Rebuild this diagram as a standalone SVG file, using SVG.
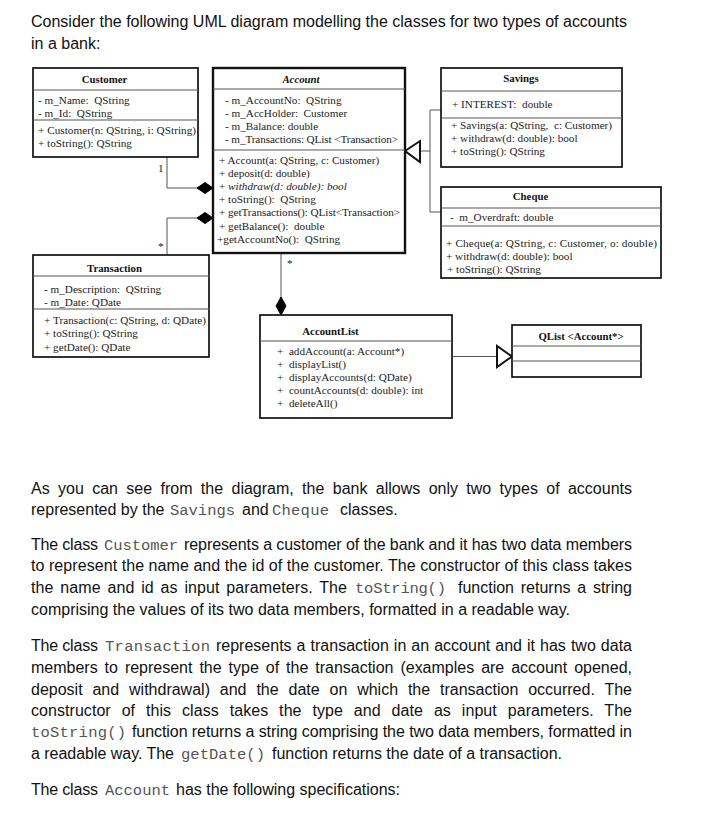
<svg xmlns="http://www.w3.org/2000/svg" width="711" height="823" viewBox="0 0 711 823">
<style>
.bg{fill:#fff}
.box{fill:#fff;stroke:#111;stroke-width:1.7}
.boxk{fill:#fff;stroke:#111;stroke-width:2.4}
.div{stroke:#555;stroke-width:1}
.t{font-family:"Liberation Serif","Times New Roman",serif;font-size:11.2px;fill:#222;white-space:pre}
.h{font-family:"Liberation Serif","Times New Roman",serif;font-size:10.8px;font-weight:bold;fill:#111;text-anchor:middle}
.i{font-style:italic}
.ln{fill:none;stroke:#555;stroke-width:1}
.dia{fill:#000;stroke:#000;stroke-width:1}
.tri{fill:#fff;stroke:#111;stroke-width:2}
.p{font-family:"Liberation Sans",Arial,sans-serif;font-size:16px;fill:#111}
.m{font-family:"Liberation Mono","Courier New",monospace;font-size:15.5px;fill:#555}
</style>
<rect class="bg" x="0" y="0" width="711" height="823"/>

<g id="intro">
<text class="p" x="31" y="27" textLength="596">Consider the following UML diagram modelling the classes for two types of accounts</text>
<text class="p" x="31" y="49">in a bank:</text>
</g>

<g id="connectors">
<polyline class="ln" points="167,157 167,188 197,188"/>
<polygon class="dia" points="197,188 205,182.5 213,188 205,193.5"/>
<text class="t" x="158" y="172">1</text>
<polyline class="ln" points="167,255 167,218 197,218"/>
<polygon class="dia" points="197,218 205,212.5 213,218 205,223.5"/>
<text class="t" x="158" y="250">*</text>
<line class="ln" x1="281" y1="253" x2="281" y2="298"/>
<polygon class="dia" points="281,297 286,306 281,315 276,306"/>
<text class="t" x="287" y="267">*</text>
<polyline class="ln" points="420,151 430,151"/>
<polyline class="ln" points="441,110 430,110 430,212 441,212"/>
<polygon class="tri" points="405,151 420,141 420,162"/>
<line class="ln" x1="452" y1="356.5" x2="497" y2="356.5"/>
<polygon class="tri" points="512,356.5 497,346 497,367"/>
</g>

<g id="Customer">
<rect class="box" x="33" y="68" width="165" height="89"/>
<text class="h" x="104.5" y="82.5">Customer</text>
<line class="div" x1="33" y1="90" x2="198" y2="90"/>
<text class="t" x="38" y="103.5">- m_Name:  QString</text>
<text class="t" x="38" y="116.5">- m_Id:  QString</text>
<line class="div" x1="33" y1="120" x2="198" y2="120"/>
<text class="t" x="38" y="133.5" textLength="158">+ Customer(n: QString, i: QString)</text>
<text class="t" x="38" y="147">+ toString(): QString</text>
</g>

<g id="Account">
<rect class="boxk" x="213" y="68" width="192" height="185"/>
<text class="h i" x="301" y="82.5">Account</text>
<line class="div" x1="213" y1="89" x2="405" y2="89"/>
<text class="t" x="225" y="103.5">- m_AccountNo:  QString</text>
<text class="t" x="225" y="116.5">- m_AccHolder:  Customer</text>
<text class="t" x="225" y="129.5">- m_Balance: double</text>
<text class="t" x="225" y="142.5" textLength="173">- m_Transactions: QList &lt;Transaction&gt;</text>
<line class="div" x1="213" y1="150" x2="405" y2="150"/>
<text class="t" x="219" y="163.5">+ Account(a: QString, c: Customer)</text>
<text class="t" x="219" y="176.7">+ deposit(d: double)</text>
<text class="t" x="219" y="189.9">+ <tspan class="i">withdraw(d: double): bool</tspan></text>
<text class="t" x="219" y="203.1">+ toString():  QString</text>
<text class="t" x="219" y="216.3" textLength="181">+ getTransactions(): QList&lt;Transaction&gt;</text>
<text class="t" x="219" y="229.5">+ getBalance():  double</text>
<text class="t" x="217" y="242.7">+getAccountNo():  QString</text>
</g>

<g id="Savings">
<rect class="box" x="441" y="68" width="181" height="99"/>
<text class="h" x="521" y="82">Savings</text>
<line class="div" x1="441" y1="91" x2="622" y2="91"/>
<text class="t" x="452" y="107.5">+ INTEREST:  double</text>
<line class="div" x1="441" y1="118" x2="622" y2="118"/>
<text class="t" x="451" y="129">+ Savings(a: QString,  c: Customer)</text>
<text class="t" x="451" y="142">+ withdraw(d: double): bool</text>
<text class="t" x="451" y="155">+ toString(): QString</text>
</g>

<g id="Cheque">
<rect class="box" x="441" y="187" width="220" height="91"/>
<text class="h" x="530.5" y="200">Cheque</text>
<line class="div" x1="441" y1="208" x2="661" y2="208"/>
<text class="t" x="450" y="220.5">-  m_Overdraft: double</text>
<line class="div" x1="441" y1="226" x2="661" y2="226"/>
<text class="t" x="446" y="246.5" textLength="211">+ Cheque(a: QString, c: Customer, o: double)</text>
<text class="t" x="446" y="259.5">+ withdraw(d: double): bool</text>
<text class="t" x="447" y="272.5">+ toString(): QString</text>
</g>

<g id="Transaction">
<rect class="box" x="33" y="255" width="176" height="102"/>
<text class="h" x="114.5" y="272">Transaction</text>
<line class="div" x1="33" y1="276" x2="209" y2="276"/>
<text class="t" x="44" y="292.5">- m_Description:  QString</text>
<text class="t" x="44" y="305.5">- m_Date: QDate</text>
<line class="div" x1="33" y1="309" x2="209" y2="309"/>
<text class="t" x="44" y="323.5" textLength="162">+ Transaction(c: QString, d: QDate)</text>
<text class="t" x="44" y="337">+ toString(): QString</text>
<text class="t" x="44" y="350.5">+ getDate(): QDate</text>
</g>

<g id="AccountList">
<rect class="box" x="260" y="315" width="192" height="103"/>
<text class="h" x="330.5" y="334.5">AccountList</text>
<line class="div" x1="260" y1="341" x2="452" y2="341"/>
<text class="t" x="277" y="354.5">+  addAccount(a: Account*)</text>
<text class="t" x="277" y="367.5">+  displayList()</text>
<text class="t" x="277" y="380.5">+  displayAccounts(d: QDate)</text>
<text class="t" x="277" y="394">+  countAccounts(d: double): int</text>
<text class="t" x="277" y="407">+  deleteAll()</text>
</g>

<g id="QList">
<rect class="box" x="512" y="325" width="129" height="52"/>
<text class="h" x="581" y="339.5">QList &lt;Account*&gt;</text>
<line class="div" x1="512" y1="346" x2="641" y2="346"/>
<line class="div" x1="512" y1="361" x2="641" y2="361"/>
</g>

<g id="body">
<text class="p" x="31" y="494" word-spacing="3.9" textLength="601">As you can see from the diagram, the bank allows only two types of accounts</text>
<text class="p" x="31" y="515">represented by the</text>
<text class="m" x="170" y="515" textLength="65">Savings</text>
<text class="p" x="242" y="515">and</text>
<text class="m" x="272" y="515" textLength="57">Cheque</text>
<text class="p" x="340" y="515">classes.</text>

<text class="p" x="31" y="550" textLength="67">The class</text>
<text class="m" x="104" y="550" textLength="74">Customer</text>
<text class="p" x="184" y="550" textLength="448">represents a customer of the bank and it has two data members</text>
<text class="p" x="31" y="571" textLength="601">to represent the name and the id of the customer. The constructor of this class takes</text>
<text class="p" x="31" y="593" word-spacing="2.2" textLength="316">the name and id as input parameters. The</text>
<text class="m" x="355" y="593" textLength="91">toString()</text>
<text class="p" x="458" y="593" word-spacing="2.3" textLength="174">function returns a string</text>
<text class="p" x="31" y="615" textLength="539">comprising the values of its two data members, formatted in a readable way.</text>

<text class="p" x="31" y="651" textLength="67">The class</text>
<text class="m" x="105" y="651" textLength="105">Transaction</text>
<text class="p" x="216" y="651" word-spacing="0.6" textLength="416">represents a transaction in an account and it has two data</text>
<text class="p" x="31" y="673" word-spacing="2.5" textLength="601">members to represent the type of the transaction (examples are account opened,</text>
<text class="p" x="31" y="695" word-spacing="5.4" textLength="601">deposit and withdrawal) and the date on which the transaction occurred. The</text>
<text class="p" x="31" y="716" word-spacing="6.4" textLength="601">constructor of this class takes the type and date as input parameters. The</text>
<text class="m" x="31" y="737" textLength="95">toString()</text>
<text class="p" x="132" y="737" textLength="500">function returns a string comprising the two data members, formatted in</text>
<text class="p" x="31" y="759" textLength="143">a readable way. The</text>
<text class="m" x="181" y="759" textLength="84">getDate()</text>
<text class="p" x="272" y="759" textLength="290">function returns the date of a transaction.</text>

<text class="p" x="31" y="795" textLength="67">The class</text>
<text class="m" x="105" y="795" textLength="65">Account</text>
<text class="p" x="176" y="795" textLength="224">has the following specifications:</text>
</g>
</svg>
